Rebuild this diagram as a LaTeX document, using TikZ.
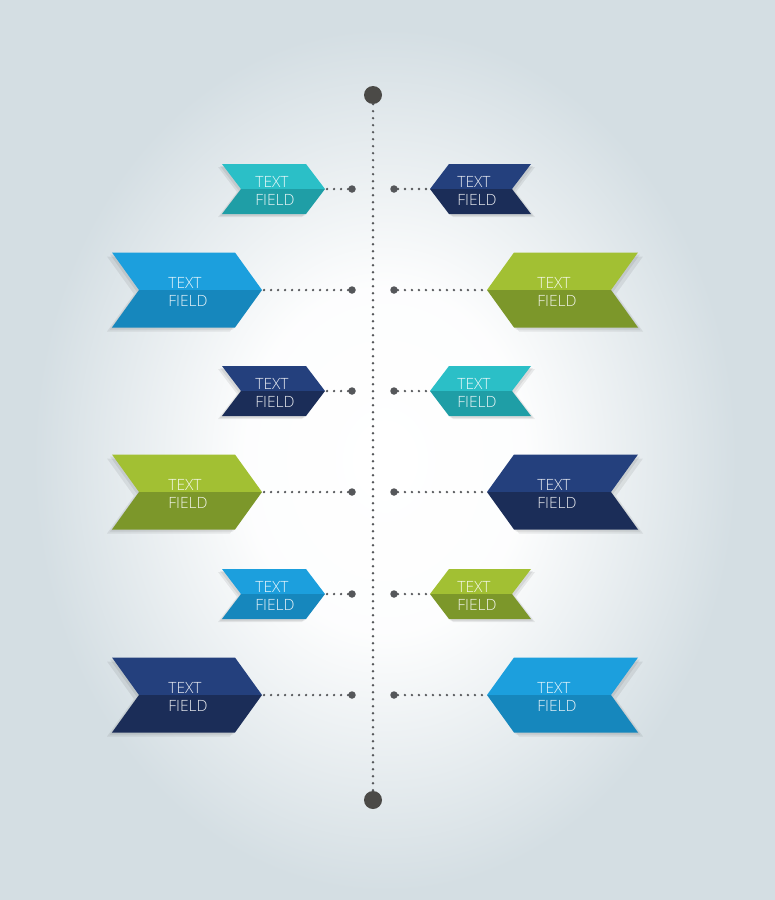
\documentclass[tikz,border=0pt]{standalone}
\usepackage{fontspec}
\usepackage{tikz}
\IfFontExistsTF{Open Sans Light}{\newfontfamily\labelfont{Open Sans Light}}{\newfontfamily\labelfont{Open Sans}}
\definecolor{bggray}{HTML}{D4DEE3}
\definecolor{dotgray}{HTML}{55575A}
\definecolor{pingray}{HTML}{4B4A47}
\definecolor{tealA}{HTML}{2BBFC7}
\definecolor{tealB}{HTML}{1F9EA6}
\definecolor{navyA}{HTML}{24407D}
\definecolor{navyB}{HTML}{1B2D58}
\definecolor{blueA}{HTML}{1C9FDD}
\definecolor{blueB}{HTML}{1687BD}
\definecolor{greenA}{HTML}{A2C033}
\definecolor{greenB}{HTML}{7C972A}
\pgfdeclareradialshading{glow}{\pgfpoint{0bp}{0bp}}{%
  color(0bp)=(white); color(8bp)=(white!95!bggray);
  color(20bp)=(bggray); color(50bp)=(bggray)}

\begin{document}
\begin{tikzpicture}[x=1pt, y=-1pt,
    shadow/.style={fill=black, opacity=0.07},
    label/.style={text=white, text opacity=0.9, align=left, inner sep=0pt,
      font=\labelfont\fontsize{15.5}{18}\selectfont},
    dot/.style={circle, fill=dotgray, inner sep=0pt, minimum size=7.5pt},
    pin/.style={circle, fill=pingray, inner sep=0pt, minimum size=18pt},
    link/.style={draw=dotgray, line width=2.6pt, line cap=round,
      dash pattern=on 0pt off 7pt}]
  \useasboundingbox (0,0) rectangle (775,900);
  % background
  \fill[bggray] (0,0) rectangle (775,900);
  \shade[shading=glow] (385,460) ellipse (440 and 540);
  % timeline
  \node[pin] (top) at (373,95) {};
  \node[pin] (bottom) at (373,800) {};
  \draw[link] (top) -- (bottom);
  % left column
  \begin{scope}[shift={(325,189)}] % row 1, teal
    \fill[shadow, shift={(-2,2)}] (0,0) -- (-19,-25) -- (-103,-25) -- (-84,0) -- (-103,25) -- (-19,25) -- cycle;
    \fill[shadow, shift={(-4,3)}] (0,0) -- (-19,-25) -- (-103,-25) -- (-84,0) -- (-103,25) -- (-19,25) -- cycle;
    \fill[tealA] (0,0) -- (-19,-25) -- (-103,-25) -- (-84,0) -- cycle;
    \fill[tealB] (0,0) -- (-19,25) -- (-103,25) -- (-84,0) -- cycle;
    \node[label] (t1) at (-50,1.5) {TEXT\\FIELD};
    \coordinate (l1) at (0,0);
  \end{scope}
  \begin{scope}[shift={(262,290)}] % row 2, blue
    \fill[shadow, shift={(-2,2)}] (0,0) -- (-27,-37.5) -- (-150,-37.5) -- (-123,0) -- (-150,37.5) -- (-27,37.5) -- cycle;
    \fill[shadow, shift={(-5,4)}] (0,0) -- (-27,-37.5) -- (-150,-37.5) -- (-123,0) -- (-150,37.5) -- (-27,37.5) -- cycle;
    \fill[blueA] (0,0) -- (-27,-37.5) -- (-150,-37.5) -- (-123,0) -- cycle;
    \fill[blueB] (0,0) -- (-27,37.5) -- (-150,37.5) -- (-123,0) -- cycle;
    \node[label] (t2) at (-74,1.5) {TEXT\\FIELD};
    \coordinate (l2) at (0,0);
  \end{scope}
  \begin{scope}[shift={(325,391)}] % row 3, navy
    \fill[shadow, shift={(-2,2)}] (0,0) -- (-19,-25) -- (-103,-25) -- (-84,0) -- (-103,25) -- (-19,25) -- cycle;
    \fill[shadow, shift={(-4,3)}] (0,0) -- (-19,-25) -- (-103,-25) -- (-84,0) -- (-103,25) -- (-19,25) -- cycle;
    \fill[navyA] (0,0) -- (-19,-25) -- (-103,-25) -- (-84,0) -- cycle;
    \fill[navyB] (0,0) -- (-19,25) -- (-103,25) -- (-84,0) -- cycle;
    \node[label] (t3) at (-50,1.5) {TEXT\\FIELD};
    \coordinate (l3) at (0,0);
  \end{scope}
  \begin{scope}[shift={(262,492)}] % row 4, green
    \fill[shadow, shift={(-2,2)}] (0,0) -- (-27,-37.5) -- (-150,-37.5) -- (-123,0) -- (-150,37.5) -- (-27,37.5) -- cycle;
    \fill[shadow, shift={(-5,4)}] (0,0) -- (-27,-37.5) -- (-150,-37.5) -- (-123,0) -- (-150,37.5) -- (-27,37.5) -- cycle;
    \fill[greenA] (0,0) -- (-27,-37.5) -- (-150,-37.5) -- (-123,0) -- cycle;
    \fill[greenB] (0,0) -- (-27,37.5) -- (-150,37.5) -- (-123,0) -- cycle;
    \node[label] (t4) at (-74,1.5) {TEXT\\FIELD};
    \coordinate (l4) at (0,0);
  \end{scope}
  \begin{scope}[shift={(325,594)}] % row 5, blue
    \fill[shadow, shift={(-2,2)}] (0,0) -- (-19,-25) -- (-103,-25) -- (-84,0) -- (-103,25) -- (-19,25) -- cycle;
    \fill[shadow, shift={(-4,3)}] (0,0) -- (-19,-25) -- (-103,-25) -- (-84,0) -- (-103,25) -- (-19,25) -- cycle;
    \fill[blueA] (0,0) -- (-19,-25) -- (-103,-25) -- (-84,0) -- cycle;
    \fill[blueB] (0,0) -- (-19,25) -- (-103,25) -- (-84,0) -- cycle;
    \node[label] (t5) at (-50,1.5) {TEXT\\FIELD};
    \coordinate (l5) at (0,0);
  \end{scope}
  \begin{scope}[shift={(262,695)}] % row 6, navy
    \fill[shadow, shift={(-2,2)}] (0,0) -- (-27,-37.5) -- (-150,-37.5) -- (-123,0) -- (-150,37.5) -- (-27,37.5) -- cycle;
    \fill[shadow, shift={(-5,4)}] (0,0) -- (-27,-37.5) -- (-150,-37.5) -- (-123,0) -- (-150,37.5) -- (-27,37.5) -- cycle;
    \fill[navyA] (0,0) -- (-27,-37.5) -- (-150,-37.5) -- (-123,0) -- cycle;
    \fill[navyB] (0,0) -- (-27,37.5) -- (-150,37.5) -- (-123,0) -- cycle;
    \node[label] (t6) at (-74,1.5) {TEXT\\FIELD};
    \coordinate (l6) at (0,0);
  \end{scope}
  % right column
  \begin{scope}[shift={(430,189)}] % row 1, navy
    \fill[shadow, shift={(2,2)}] (0,0) -- (19,-25) -- (101,-25) -- (82,0) -- (101,25) -- (19,25) -- cycle;
    \fill[shadow, shift={(4,3)}] (0,0) -- (19,-25) -- (101,-25) -- (82,0) -- (101,25) -- (19,25) -- cycle;
    \fill[navyA] (0,0) -- (19,-25) -- (101,-25) -- (82,0) -- cycle;
    \fill[navyB] (0,0) -- (19,25) -- (101,25) -- (82,0) -- cycle;
    \node[label] (u1) at (47,1.5) {TEXT\\FIELD};
    \coordinate (r1) at (0,0);
  \end{scope}
  \begin{scope}[shift={(487,290)}] % row 2, green
    \fill[shadow, shift={(2,2)}] (0,0) -- (27,-37.5) -- (151,-37.5) -- (124,0) -- (151,37.5) -- (27,37.5) -- cycle;
    \fill[shadow, shift={(5,4)}] (0,0) -- (27,-37.5) -- (151,-37.5) -- (124,0) -- (151,37.5) -- (27,37.5) -- cycle;
    \fill[greenA] (0,0) -- (27,-37.5) -- (151,-37.5) -- (124,0) -- cycle;
    \fill[greenB] (0,0) -- (27,37.5) -- (151,37.5) -- (124,0) -- cycle;
    \node[label] (u2) at (70,1.5) {TEXT\\FIELD};
    \coordinate (r2) at (0,0);
  \end{scope}
  \begin{scope}[shift={(430,391)}] % row 3, teal
    \fill[shadow, shift={(2,2)}] (0,0) -- (19,-25) -- (101,-25) -- (82,0) -- (101,25) -- (19,25) -- cycle;
    \fill[shadow, shift={(4,3)}] (0,0) -- (19,-25) -- (101,-25) -- (82,0) -- (101,25) -- (19,25) -- cycle;
    \fill[tealA] (0,0) -- (19,-25) -- (101,-25) -- (82,0) -- cycle;
    \fill[tealB] (0,0) -- (19,25) -- (101,25) -- (82,0) -- cycle;
    \node[label] (u3) at (47,1.5) {TEXT\\FIELD};
    \coordinate (r3) at (0,0);
  \end{scope}
  \begin{scope}[shift={(487,492)}] % row 4, navy
    \fill[shadow, shift={(2,2)}] (0,0) -- (27,-37.5) -- (151,-37.5) -- (124,0) -- (151,37.5) -- (27,37.5) -- cycle;
    \fill[shadow, shift={(5,4)}] (0,0) -- (27,-37.5) -- (151,-37.5) -- (124,0) -- (151,37.5) -- (27,37.5) -- cycle;
    \fill[navyA] (0,0) -- (27,-37.5) -- (151,-37.5) -- (124,0) -- cycle;
    \fill[navyB] (0,0) -- (27,37.5) -- (151,37.5) -- (124,0) -- cycle;
    \node[label] (u4) at (70,1.5) {TEXT\\FIELD};
    \coordinate (r4) at (0,0);
  \end{scope}
  \begin{scope}[shift={(430,594)}] % row 5, green
    \fill[shadow, shift={(2,2)}] (0,0) -- (19,-25) -- (101,-25) -- (82,0) -- (101,25) -- (19,25) -- cycle;
    \fill[shadow, shift={(4,3)}] (0,0) -- (19,-25) -- (101,-25) -- (82,0) -- (101,25) -- (19,25) -- cycle;
    \fill[greenA] (0,0) -- (19,-25) -- (101,-25) -- (82,0) -- cycle;
    \fill[greenB] (0,0) -- (19,25) -- (101,25) -- (82,0) -- cycle;
    \node[label] (u5) at (47,1.5) {TEXT\\FIELD};
    \coordinate (r5) at (0,0);
  \end{scope}
  \begin{scope}[shift={(487,695)}] % row 6, blue
    \fill[shadow, shift={(2,2)}] (0,0) -- (27,-37.5) -- (151,-37.5) -- (124,0) -- (151,37.5) -- (27,37.5) -- cycle;
    \fill[shadow, shift={(5,4)}] (0,0) -- (27,-37.5) -- (151,-37.5) -- (124,0) -- (151,37.5) -- (27,37.5) -- cycle;
    \fill[blueA] (0,0) -- (27,-37.5) -- (151,-37.5) -- (124,0) -- cycle;
    \fill[blueB] (0,0) -- (27,37.5) -- (151,37.5) -- (124,0) -- cycle;
    \node[label] (u6) at (70,1.5) {TEXT\\FIELD};
    \coordinate (r6) at (0,0);
  \end{scope}
  % connectors
  \node[dot] (dl1) at (352,189) {};  \node[dot] (dr1) at (394,189) {};
  \node[dot] (dl2) at (352,290) {};  \node[dot] (dr2) at (394,290) {};
  \node[dot] (dl3) at (352,391) {};  \node[dot] (dr3) at (394,391) {};
  \node[dot] (dl4) at (352,492) {};  \node[dot] (dr4) at (394,492) {};
  \node[dot] (dl5) at (352,594) {};  \node[dot] (dr5) at (394,594) {};
  \node[dot] (dl6) at (352,695) {};  \node[dot] (dr6) at (394,695) {};
  \draw[link] (dl1) -- (l1); \draw[link] (dr1) -- (r1);
  \draw[link] (dl2) -- (l2); \draw[link] (dr2) -- (r2);
  \draw[link] (dl3) -- (l3); \draw[link] (dr3) -- (r3);
  \draw[link] (dl4) -- (l4); \draw[link] (dr4) -- (r4);
  \draw[link] (dl5) -- (l5); \draw[link] (dr5) -- (r5);
  \draw[link] (dl6) -- (l6); \draw[link] (dr6) -- (r6);
\end{tikzpicture}
\end{document}
